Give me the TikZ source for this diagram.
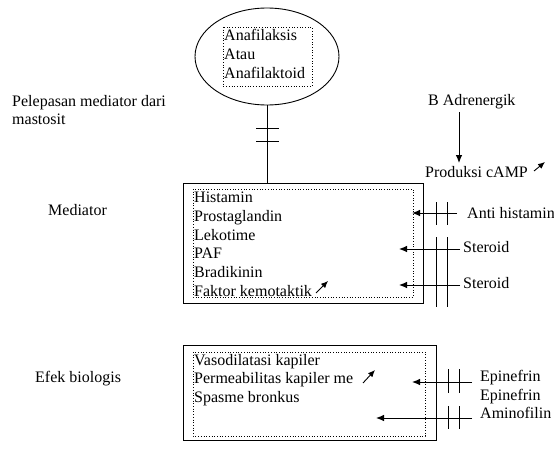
\documentclass[tikz,border=0pt]{standalone}
\usepackage{fontspec}
\setmainfont{Liberation Serif}
\usetikzlibrary{arrows.meta,shapes.geometric}
\begin{document}
\begin{tikzpicture}[x=1pt,y=-1pt,
  lbl/.style={anchor=base west,inner sep=0pt,font=\fontsize{16}{18}\selectfont},
  arr/.style={line width=0.9pt,-{Latex[length=8pt,width=6.5pt]}},
  sarr/.style={line width=0.9pt,-{Latex[length=7pt,width=6pt]}},
  ln/.style={line width=0.9pt},
  dotbox/.style={dotted,line width=0.7pt},
  boxn/.style={draw,line width=0.9pt,inner sep=0pt}]
\useasboundingbox (0,0) rectangle (554,452);
% top ellipse
\node[ellipse,boxn,minimum width=144pt,minimum height=97pt] (el) at (267,56.5) {};
\draw[dotbox] (223,27) rectangle (312,86);
\node[lbl] (a1) at (224,41) {Anafilaksis};
\node[lbl] (a2) at (224,59.5) {Atau};
\node[lbl] (a3) at (224,78) {Anafilaktoid};
% mediator box
\node[boxn,minimum width=240pt,minimum height=120pt] (med) at (303,243) {};
\draw[dotbox] (193,189) rectangle (413,297);
\draw[ln] (el.south) -- (el.south |- med.north);
\draw[ln] (256,128) -- (279,128) (256,141) -- (279,141);
\node[lbl] (m1) at (194,202) {Histamin};
\node[lbl] (m2) at (194,221) {Prostaglandin};
\node[lbl] (m3) at (194,240) {Lekotime};
\node[lbl] (m4) at (194,258.5) {PAF};
\node[lbl] (m5) at (194,277.5) {Bradikinin};
\node[lbl] (m6) at (194,296) {Faktor kemotaktik};
\coordinate (fk1) at (316,293); \coordinate (fk2) at (328,281);
\draw[sarr] (fk1) -- (fk2);
% left labels
\node[lbl] (p1) at (12,106) {Pelepasan mediator dari};
\node[lbl] (p2) at (12,124) {mastosit};
\node[lbl] (md) at (48,215) {Mediator};
\node[lbl] (ef) at (35,382) {Efek biologis};
% right side, top
\node[lbl] (ba) at (428,105) {B Adrenergik};
\node[lbl] (pc) at (425,177) {Produksi cAMP};
\coordinate (ba1) at (459,112); \coordinate (ba2) at (459,163);
\draw[arr] (ba1) -- (ba2);
\coordinate (pc1) at (534,171); \coordinate (pc2) at (545,162);
\draw[sarr] (pc1) -- (pc2);
\node[lbl] (ah) at (467,218) {Anti histamin};
\node[lbl] (s1) at (463,252) {Steroid};
\node[lbl] (s2) at (463,288) {Steroid};
\coordinate (ah1) at (457,213); \coordinate (ah2) at (412,213);
\coordinate (s1a) at (460,249); \coordinate (s1b) at (399,249);
\coordinate (s2a) at (460,285); \coordinate (s2b) at (399,285);
\draw[arr] (ah1) -- (ah2);
\draw[arr] (s1a) -- (s1b);
\draw[arr] (s2a) -- (s2b);
\draw[ln] (436,202) -- (436,225) (447,202) -- (447,225);
\draw[ln] (436,237) -- (436,307) (447,237) -- (447,307);
% bottom box
\node[boxn,minimum width=253pt,minimum height=95pt] (eb) at (309.5,392.5) {};
\draw[dotbox] (193,352) rectangle (425,436);
\node[lbl] (e1) at (194,365) {Vasodilatasi kapiler};
\node[lbl] (e2) at (194,383.5) {Permeabilitas kapiler me};
\node[lbl] (e3) at (194,402) {Spasme bronkus};
\coordinate (pk1) at (363,383); \coordinate (pk2) at (375,370);
\draw[sarr] (pk1) -- (pk2);
\node[lbl] (ep1) at (480,381) {Epinefrin};
\node[lbl] (ep2) at (480,400) {Epinefrin};
\node[lbl] (am) at (480,418) {Aminofilin};
\coordinate (ep1a) at (472,382); \coordinate (ep1b) at (412,382);
\coordinate (am1) at (472,418); \coordinate (am2) at (376,418);
\draw[arr] (ep1a) -- (ep1b);
\draw[arr] (am1) -- (am2);
\draw[ln] (448,369) -- (448,393) (459,369) -- (459,393);
\draw[ln] (448,406) -- (448,429) (459,406) -- (459,429);
\end{tikzpicture}
\end{document}
